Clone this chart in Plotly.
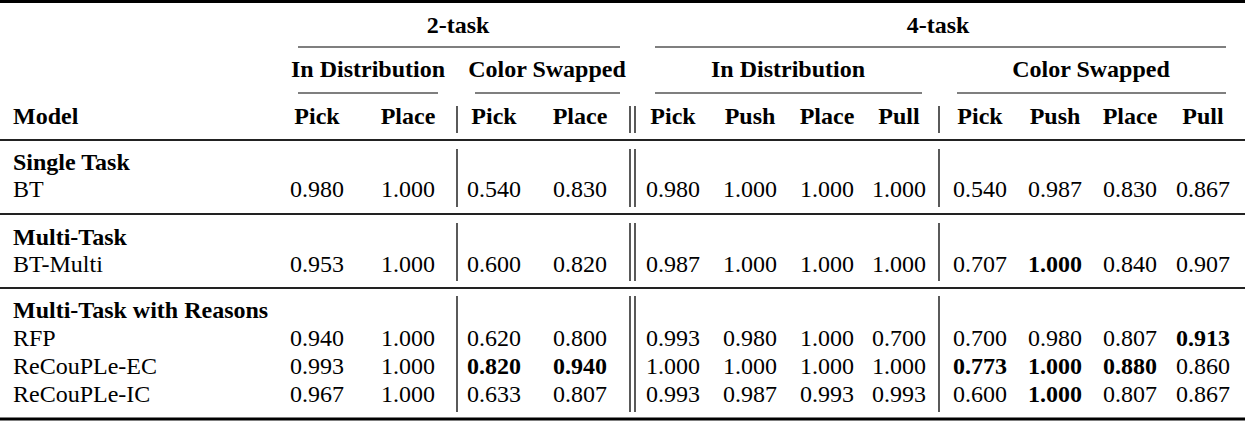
import plotly.graph_objects as go

# datos de la tabla
tareas = ["2-task", "4-task"]
subgrupos = ["In Distribution", "Color Swapped", "In Distribution", "Color Swapped"]
columnas = ["Pick", "Place", "Pick", "Place",
            "Pick", "Push", "Place", "Pull", "Pick", "Push", "Place", "Pull"]
grupos = ["Single Task", "Multi-Task", "Multi-Task with Reasons"]
modelos = ["BT", "BT-Multi", "RFP", "ReCouPLe-EC", "ReCouPLe-IC"]

t2_id_pick = [0.980, 0.953, 0.940, 0.993, 0.967]
t2_id_place = [1.000, 1.000, 1.000, 1.000, 1.000]
t2_cs_pick = [0.540, 0.600, 0.620, 0.820, 0.633]
t2_cs_place = [0.830, 0.820, 0.800, 0.940, 0.807]
t4_id_pick = [0.980, 0.987, 0.993, 1.000, 0.993]
t4_id_push = [1.000, 1.000, 0.980, 1.000, 0.987]
t4_id_place = [1.000, 1.000, 1.000, 1.000, 0.993]
t4_id_pull = [1.000, 1.000, 0.700, 1.000, 0.993]
t4_cs_pick = [0.540, 0.707, 0.700, 0.773, 0.600]
t4_cs_push = [0.987, 1.000, 0.980, 1.000, 1.000]
t4_cs_place = [0.830, 0.840, 0.807, 0.880, 0.807]
t4_cs_pull = [0.867, 0.907, 0.913, 0.860, 0.867]

# celdas en negrita (fila, columna)
negritas = [(3, 2), (3, 3), (1, 9), (3, 8), (3, 9), (4, 9), (3, 10), (2, 11)]

valores = [t2_id_pick, t2_id_place, t2_cs_pick, t2_cs_place,
           t4_id_pick, t4_id_push, t4_id_place, t4_id_pull,
           t4_cs_pick, t4_cs_push, t4_cs_place, t4_cs_pull]

# posiciones del layout (pixeles)
W, H = 1245, 422
col_x = [317, 408, 494, 580, 673, 750, 827, 899, 980, 1055, 1130, 1203]
tarea_x = [458, 938]
sub_x = [368, 547, 788, 1091]
modelo_y = [191, 266, 340, 368, 396]
grupo_y = [164, 239, 312]
y_tarea, y_sub, y_col = 27, 71, 118
x_izq = 13
FONT = "Times New Roman, Liberation Serif, Tinos, DejaVu Serif, serif"
FS = 24

fig = go.Figure()

def texto(xs, ys, ts, pos="middle center"):
    fig.add_trace(go.Scatter(x=xs, y=ys, text=ts, mode="text", textposition=pos,
                             textfont=dict(family=FONT, size=FS, color="black"),
                             hoverinfo="skip", showlegend=False))

# encabezados
texto(tarea_x, [y_tarea] * 2, ["<b>%s</b>" % t for t in tareas])
texto(sub_x, [y_sub] * 4, ["<b>%s</b>" % s for s in subgrupos])
texto(col_x, [y_col] * 12, ["<b>%s</b>" % c for c in columnas])
texto([x_izq], [y_col], ["<b>Model</b>"], "middle right")

# nombres
texto([x_izq] * 3, grupo_y, ["<b>%s</b>" % g for g in grupos], "middle right")
texto([x_izq] * 5, modelo_y, modelos, "middle right")

# valores
for j, serie in enumerate(valores):
    ts = []
    for i, v in enumerate(serie):
        s = "%.3f" % v
        if (i, j) in negritas:
            s = "<b>%s</b>" % s
        ts.append(s)
    texto([col_x[j]] * len(serie), modelo_y, ts)

# reglas horizontales
def hline(x0, x1, y, w, color="black"):
    fig.add_shape(type="line", x0=x0, x1=x1, y0=y, y1=y, xref="x", yref="y",
                  line=dict(color=color, width=w))

hline(0, W, 1.5, 3)
hline(0, W, 140, 1.8, "#222")
hline(0, W, 214, 1.8, "#222")
hline(0, W, 288, 1.8, "#222")
hline(0, W, 419, 3)
for x0, x1 in [(298, 620), (655, 1226)]:
    hline(x0, x1, 47, 1.2)
for x0, x1 in [(298, 438), (475, 620), (655, 922), (957, 1226)]:
    hline(x0, x1, 93, 1.2)

# reglas verticales
vx = [457, 630, 635, 939]
tramos = [(106, 133), (149, 207), (223, 281), (296, 412)]
for x in vx:
    for y0, y1 in tramos:
        fig.add_shape(type="line", x0=x, x1=x, y0=y0, y1=y1, xref="x", yref="y",
                      line=dict(color="black", width=1.3))

fig.update_layout(
    width=W, height=H,
    margin=dict(l=0, r=0, t=0, b=0),
    plot_bgcolor="white", paper_bgcolor="white",
    xaxis=dict(range=[0, W], visible=False, fixedrange=True),
    yaxis=dict(range=[H, 0], visible=False, fixedrange=True),
    hovermode=False,
)

fig.write_html("out.html", config={"displayModeBar": False},
               post_script="document.body.style.margin='0';")
